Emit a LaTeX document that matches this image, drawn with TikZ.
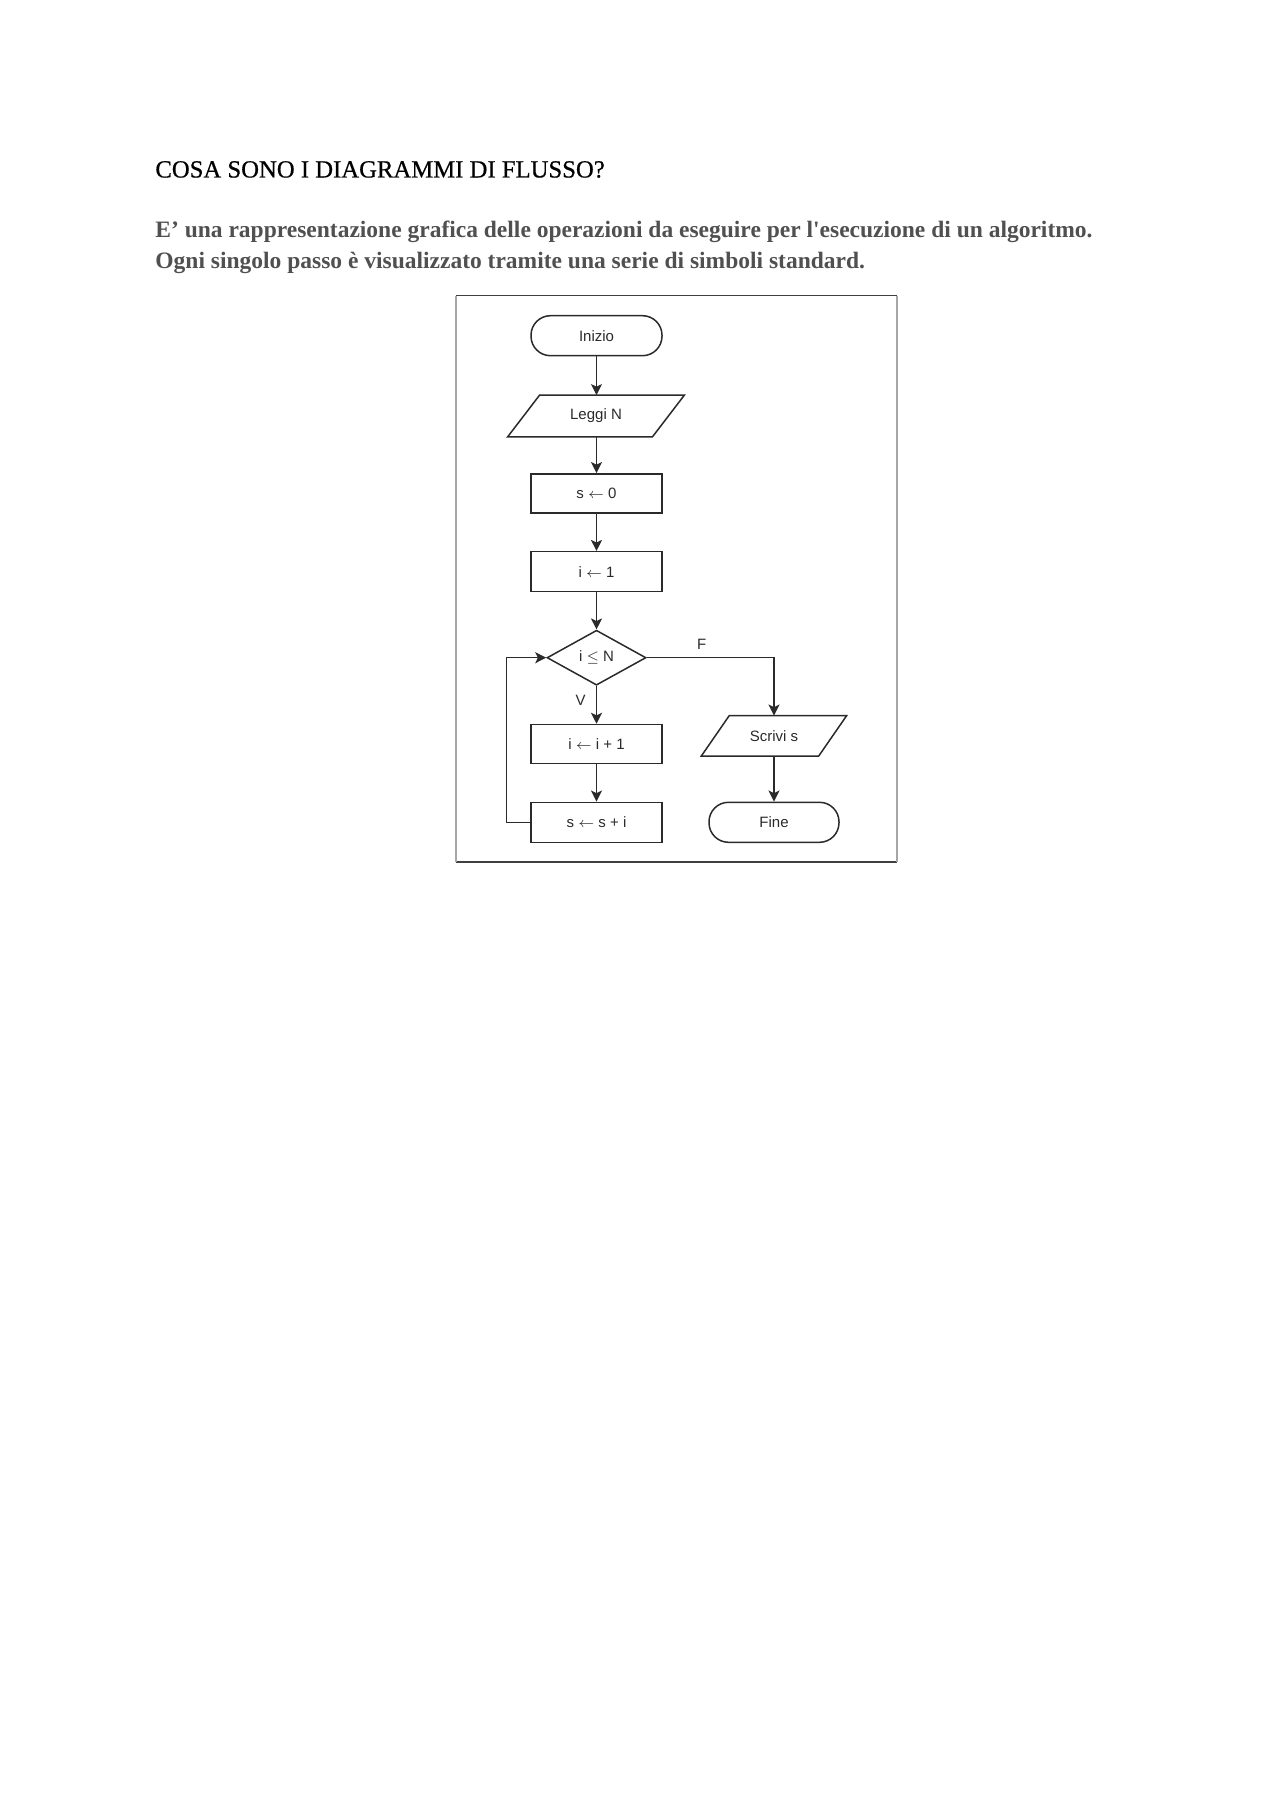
\documentclass[tikz,border=0pt]{standalone}
\usepackage{fontspec}
\setmainfont{Liberation Serif}
\newfontfamily\headfont[FakeBold=0.6]{Liberation Serif}
\newfontfamily\fcfont{Liberation Sans}
\usetikzlibrary{shapes.geometric,arrows.meta}
\definecolor{bodygray}{HTML}{505050}
\definecolor{linegray}{HTML}{2A2A2A}
\tikzset{
  fc/.style={font=\fcfont\fontsize{7.5pt}{8pt}\selectfont, text=linegray},
  procbox/.style={fc, draw=linegray, line width=0.75pt, minimum width=65.5pt, minimum height=19.5pt, inner sep=0pt},
  termbox/.style={procbox, rounded corners=9.75pt, minimum height=20pt},
  iobox/.style={fc, minimum height=20.5pt, inner sep=0pt},
  condbox/.style={fc, diamond, draw=linegray, line width=0.75pt, inner sep=0pt, minimum width=49.5pt, minimum height=27.5pt, aspect=1.8},
  arr/.style={draw=linegray, line width=0.75pt, -{Stealth[length=5.5pt,width=5.5pt,inset=1.3pt]}},
  lbl/.style={fc, inner sep=0pt},
  bodytext/.style={anchor=base west, inner sep=0pt, text=bodygray, font=\bfseries\fontsize{11.75pt}{12pt}\selectfont}
}
\begin{document}
\begin{tikzpicture}[x=0.5pt,y=-0.5pt]
\useasboundingbox (0,0) rectangle (1280,1808);
% texts
\node[anchor=base west, inner sep=0pt, font=\headfont\fontsize{12.35pt}{13pt}\selectfont] (title) at (155,177.5) {COSA SONO I DIAGRAMMI DI FLUSSO?};
\node[bodytext] (line1) at (155,238) {E’ una rappresentazione grafica delle operazioni da eseguire per l\textquotesingle esecuzione di un algoritmo.};
\node[bodytext] (line2) at (155,268.5) {Ogni singolo passo è visualizzato tramite una serie di simboli standard.};
% frame
\draw[black!75, line width=0.7pt] (455.7,295.7) -- (896.7,295.7);
\draw[black!75, line width=0.7pt] (455.7,862) -- (896.7,862);
\draw[black!35, line width=1pt] (455.7,295.7) -- (455.7,862);
\draw[black!35, line width=1pt] (896.7,295.7) -- (896.7,862);
% nodes
\node[termbox] (inizio) at (596.5,335.7) {Inizio};
\node[iobox, minimum width=72pt] (leggi) at (596,416) {Leggi N};
\draw[linegray, line width=0.75pt] ([xshift=8pt]leggi.north west) -- ([xshift=8pt]leggi.north east) -- ([xshift=-8pt]leggi.south east) -- ([xshift=-8pt]leggi.south west) -- cycle;
\node[procbox] (s0) at (596.5,493.3) {s $\leftarrow$ 0};
\node[procbox, minimum height=20pt] (i1) at (596.5,571.7) {i $\leftarrow$ 1};
\node[condbox] (cond) at (596.5,657.7) {i $\leq$ N};
\node[procbox] (inc) at (596.5,744) {i $\leftarrow$ i + 1};
\node[procbox, minimum height=20pt] (add) at (596.5,822.3) {s $\leftarrow$ s + i};
\node[iobox, minimum width=58.3pt, minimum height=19.85pt] (scrivi) at (774,735.8) {Scrivi s};
\draw[linegray, line width=0.75pt] ([xshift=7pt]scrivi.north west) -- ([xshift=7pt]scrivi.north east) -- ([xshift=-7pt]scrivi.south east) -- ([xshift=-7pt]scrivi.south west) -- cycle;
\node[termbox, minimum width=65pt] (fine) at (774,822.3) {Fine};
\coordinate (loopx) at (506.7,822.3);
% connectors
\draw[arr] (inizio.south) -- (inizio.south |- leggi.north);
\draw[arr] (leggi.south -| s0.north) -- (s0.north);
\draw[arr] (s0.south) -- (i1.north);
\draw[arr] (i1.south) -- (cond.north);
\draw[arr] (cond.south) -- (inc.north);
\draw[arr] (inc.south) -- (add.north);
\draw[arr] (cond.east) -| (scrivi.north);
\draw[arr] (scrivi.south) -- (fine.north);
\draw[arr] (add.west) -- (loopx) |- (cond.west);
% labels
\node[lbl] (flbl) at (701.7,644.3) {F};
\node[lbl] (vlbl) at (580.5,700) {V};
\end{tikzpicture}
\end{document}
